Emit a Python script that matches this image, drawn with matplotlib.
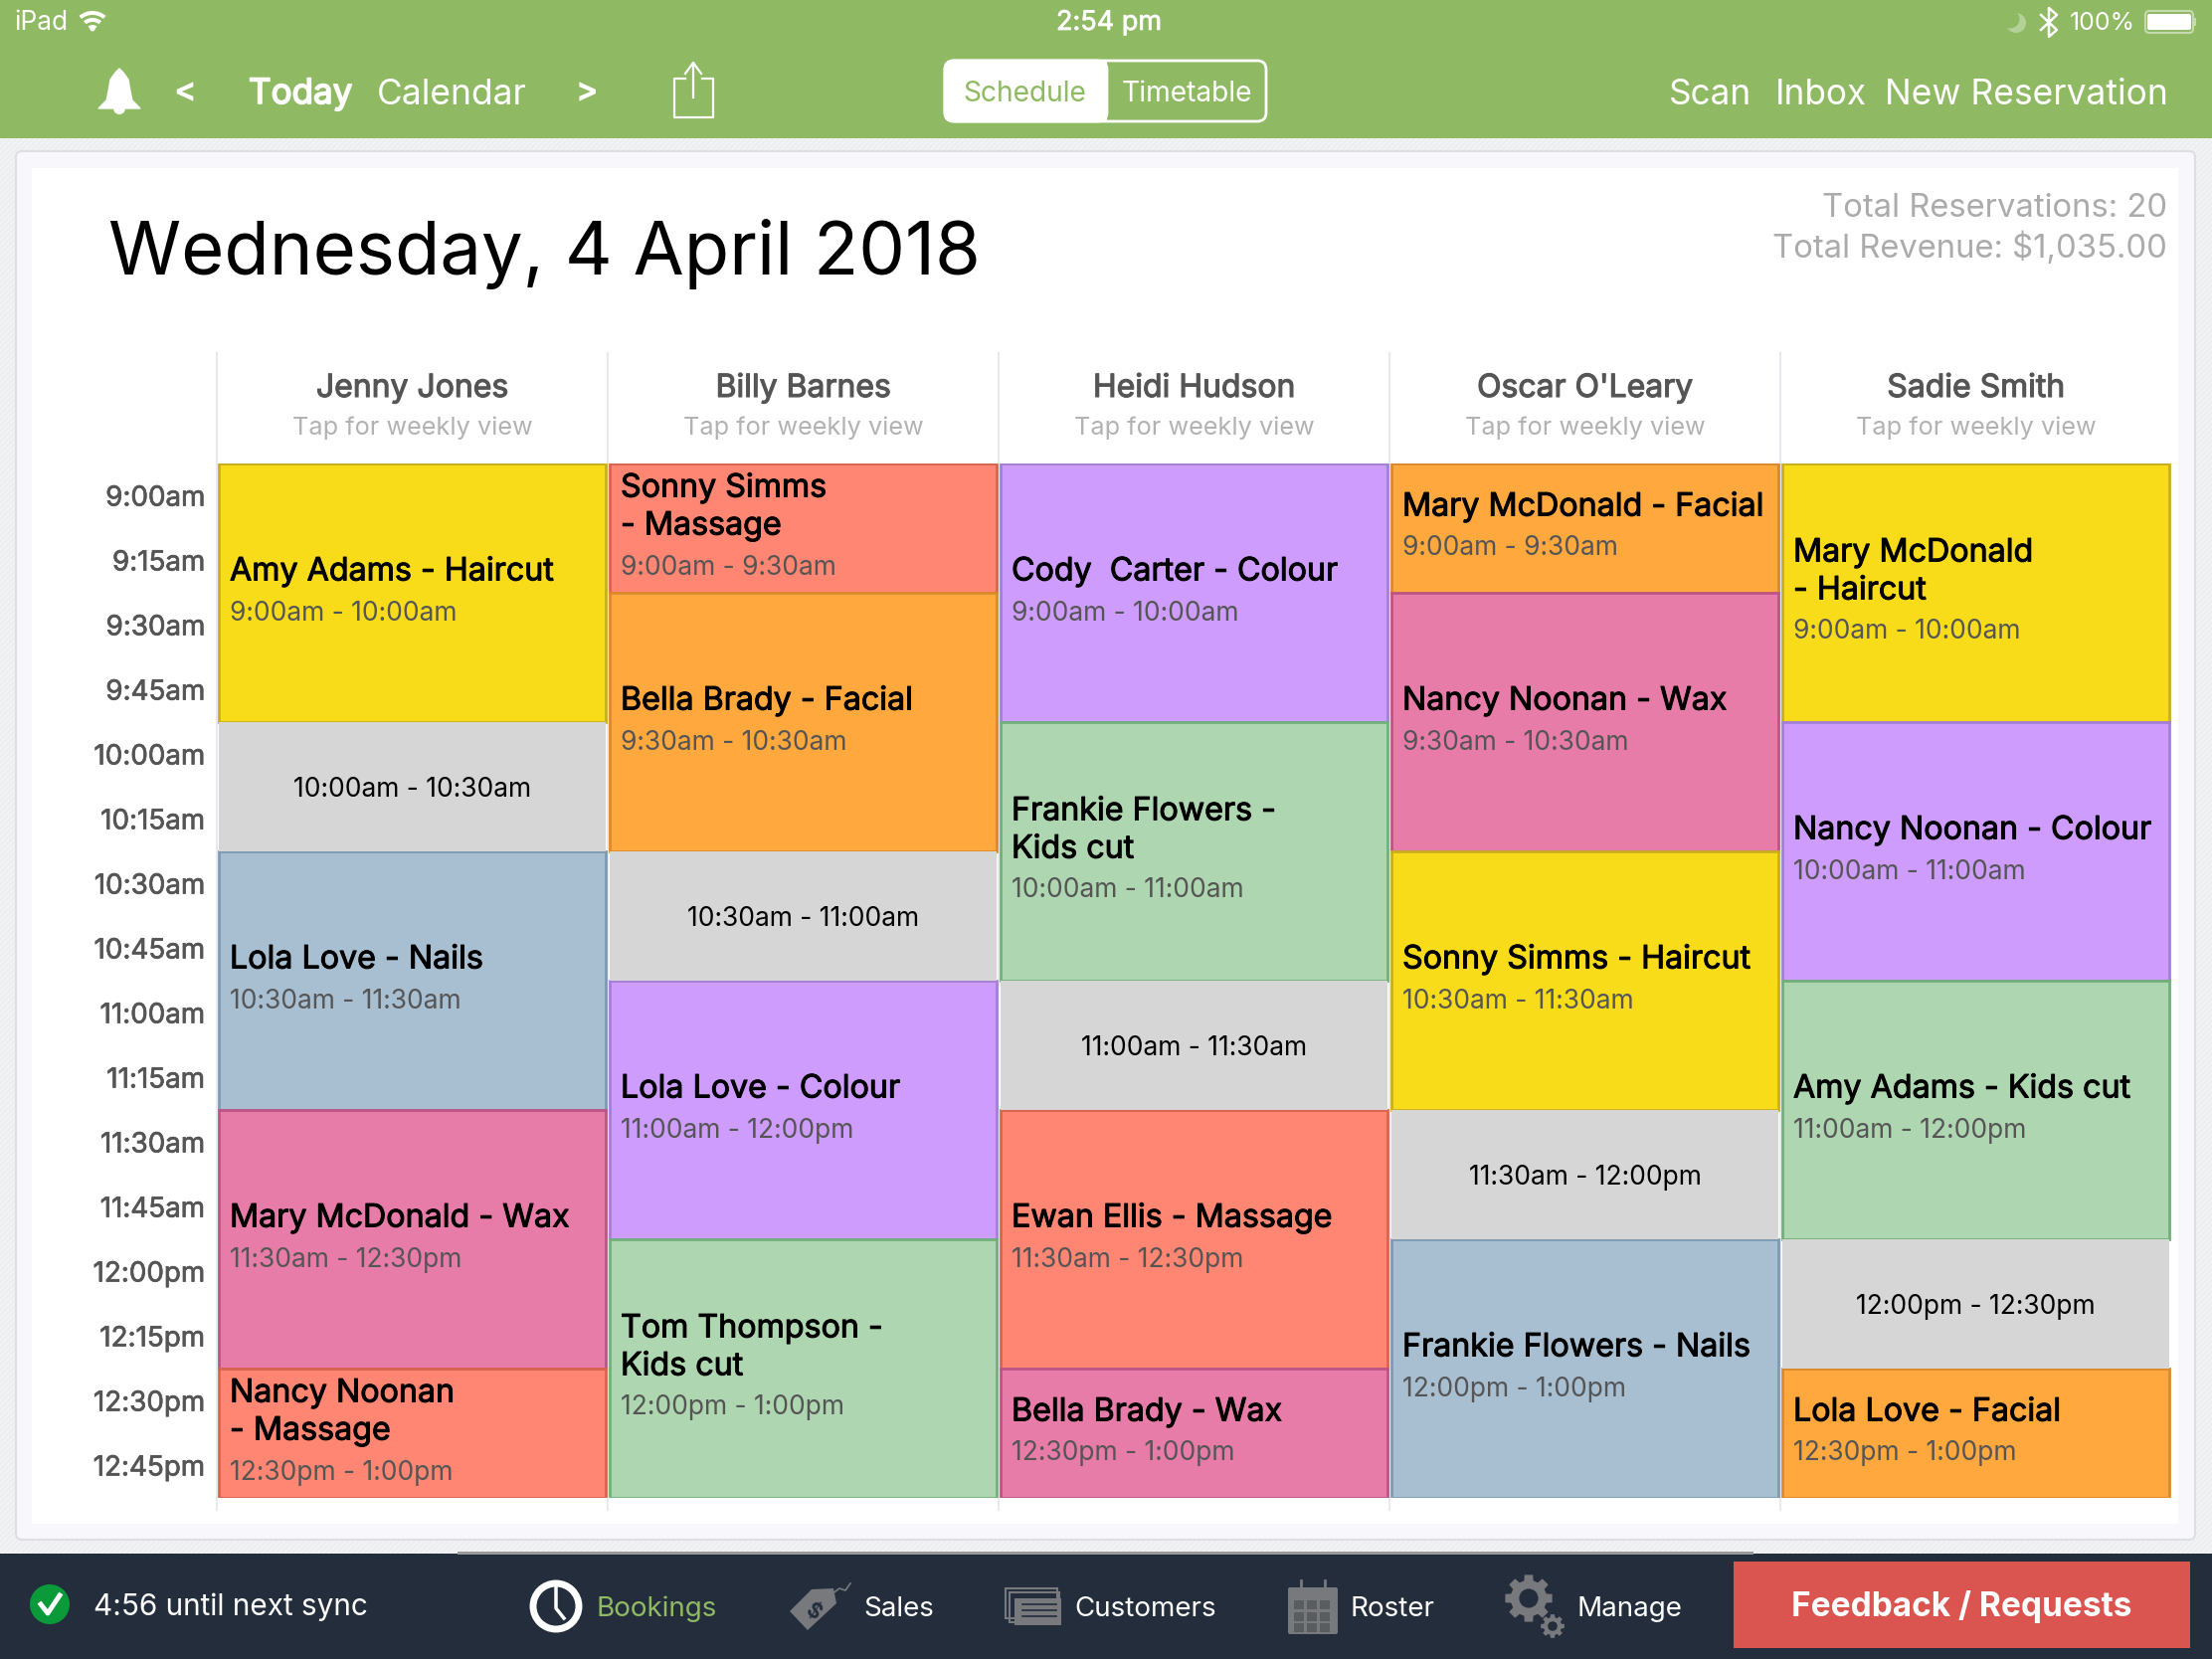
import numpy as np
import matplotlib
matplotlib.use("Agg")
import matplotlib.pyplot as plt
import matplotlib.patheffects as pe
from matplotlib.patches import Rectangle, FancyBboxPatch, Circle, Polygon, Wedge

plt.rcParams['font.family'] = ['Inter', 'DejaVu Sans']
plt.rcParams['hatch.linewidth'] = 0.6

W, H = 2224, 1668

# schedule data, times are in hours
staff = ["Jenny Jones", "Billy Barnes", "Heidi Hudson", "Oscar O'Leary", "Sadie Smith"]

jenny_titles = ["Amy Adams - Haircut", "Lola Love - Nails", "Mary McDonald - Wax", "Nancy Noonan\n- Massage"]
jenny_starts = [9, 10.5, 11.5, 12.5]
jenny_ends = [10, 11.5, 12.5, 13]

billy_titles = ["Sonny Simms\n- Massage", "Bella Brady - Facial", "Lola Love - Colour", "Tom Thompson -\nKids cut"]
billy_starts = [9, 9.5, 11, 12]
billy_ends = [9.5, 10.5, 12, 13]

heidi_titles = ["Cody  Carter - Colour", "Frankie Flowers -\nKids cut", "Ewan Ellis - Massage", "Bella Brady - Wax"]
heidi_starts = [9, 10, 11.5, 12.5]
heidi_ends = [10, 11, 12.5, 13]

oscar_titles = ["Mary McDonald - Facial", "Nancy Noonan - Wax", "Sonny Simms - Haircut", "Frankie Flowers - Nails"]
oscar_starts = [9, 9.5, 10.5, 12]
oscar_ends = [9.5, 10.5, 11.5, 13]

sadie_titles = ["Mary McDonald\n- Haircut", "Nancy Noonan - Colour", "Amy Adams - Kids cut", "Lola Love - Facial"]
sadie_starts = [9, 10, 11, 12.5]
sadie_ends = [10, 11, 12, 13]

all_titles = [jenny_titles, billy_titles, heidi_titles, oscar_titles, sadie_titles]
all_starts = [jenny_starts, billy_starts, heidi_starts, oscar_starts, sadie_starts]
all_ends = [jenny_ends, billy_ends, heidi_ends, oscar_ends, sadie_ends]

# the free slot of each column
free_starts = [10, 10.5, 11, 11.5, 12]
free_ends = [10.5, 11, 11.5, 12, 12.5]

# the time labels down the left side
time_slots = [9, 9.25, 9.5, 9.75, 10, 10.25, 10.5, 10.75, 11, 11.25, 11.5, 11.75, 12, 12.25, 12.5, 12.75]

# fill, edge
service_colours = {
    "Haircut": ("#F8DC1A", "#C9AE1E"),
    "Massage": ("#FF8672", "#D9654F"),
    "Facial": ("#FFA83E", "#D98A2B"),
    "Colour": ("#CD9CFC", "#A47FD6"),
    "Kids cut": ("#AED6B0", "#72B07A"),
    "Wax": ("#E87CA9", "#BC5585"),
    "Nails": ("#A8BED1", "#7E9AB3"),
}

GREEN = "#8FBA63"
NAVY = "#232D3C"
ICON_GREY = "#77797C"


def fmt_time(t):
    hour = int(t)
    minute = int(round((t - hour) * 60))
    suffix = "am" if hour < 12 else "pm"
    shown = hour if hour <= 12 else hour - 12
    return f"{shown}:{minute:02d}{suffix}"


def fmt_range(a, b):
    return f"{fmt_time(a)} - {fmt_time(b)}"


# only regular and bold cut are usable, so a thin stroke stands in for medium
def thick(color, width=0.6):
    return [pe.withStroke(linewidth=width, foreground=color)]


fig = plt.figure(figsize=(W / 100, H / 100), dpi=100, facecolor="#F1F2F4")

# overlay in pixel coordinates for the app chrome
bg = fig.add_axes([0, 0, 1, 1], zorder=0)
bg.set_xlim(0, W)
bg.set_ylim(H, 0)
bg.axis("off")

# schedule axes: x is the staff column, y is the time of day
LEFT, RIGHT, TOP, BOTTOM = 218, 2183, 466, 1506
ax = fig.add_axes([LEFT / W, 1 - BOTTOM / H, (RIGHT - LEFT) / W, (BOTTOM - TOP) / H], zorder=1)
ax.set_xlim(0, 5)
ax.set_ylim(13, 9)
ax.patch.set_alpha(0)
for s in ax.spines.values():
    s.set_visible(False)
ax.set_xticks([])
ax.set_yticks([t + 0.125 for t in time_slots])
ax.set_yticklabels([fmt_time(t) for t in time_slots], fontsize=20, color="#555555",
                   path_effects=thick("#555555", 0.5))
ax.tick_params(axis="y", length=0, pad=8.5)


def put(x, y, s, dx=0, dy=0, **kw):
    ax.annotate(s, xy=(x, y), xytext=(dx, dy), textcoords="offset pixels", annotation_clip=False, **kw)


# faint diagonal texture of the page
bg.add_patch(Rectangle((0, 139), W, 1423, fc="#F1F2F4", ec="#E9EAED", hatch="//////", lw=0))

# card behind the schedule
bg.add_patch(FancyBboxPatch((16, 152), 2191, 1396, boxstyle="round,pad=0,rounding_size=6",
                            fc="#F8F8FC", ec="#DFDFE3", lw=1.5))
bg.add_patch(Rectangle((32, 169), 2158, 1363, fc="white", ec="none"))

# top bar
bg.add_patch(Rectangle((0, 0), W, 139, fc=GREEN, ec="none"))
bg.text(14, 23, "iPad", color="white", fontsize=19, va="center")
# wifi
for r in (21, 14, 7):
    bg.add_patch(Wedge((93, 32), r, 230, 310, width=4, fc="white", ec="none"))
bg.add_patch(Circle((93, 29), 2.5, fc="white", ec="none"))
bg.text(1115, 23, "2:54 pm", color="white", fontsize=19.5, va="center", ha="center",
        path_effects=thick("white", 0.5))
# moon
bg.add_patch(Circle((2027, 23), 10, fc="#B4D197", ec="none"))
bg.add_patch(Circle((2021, 19), 9.5, fc=GREEN, ec="none"))
# bluetooth
bg.plot([2052, 2068, 2060, 2060, 2068, 2052], [15, 30, 37, 8, 15, 30], color="white", lw=1.8)
bg.text(2147, 23, "100%", color="white", fontsize=17.9, va="center", ha="right")
# battery
bg.add_patch(FancyBboxPatch((2157, 11), 48, 22, boxstyle="round,pad=0,rounding_size=4", fc="none", ec="#C5DBAE", lw=1.5))
bg.add_patch(FancyBboxPatch((2159, 14), 44, 16, boxstyle="round,pad=0,rounding_size=2", fc="white", ec="none"))
bg.add_patch(Rectangle((2206, 18), 2, 8, fc="#C5DBAE", ec="none"))

# bell
bell = Polygon([(120, 69), (124, 73), (129, 80), (131, 92), (133, 101), (141, 109), (99, 109),
                (107, 101), (109, 92), (111, 80), (116, 73)], fc="white", ec="white", lw=1)
bg.add_patch(bell)
bg.add_patch(Wedge((120, 109), 6, 0, 180, fc="white", ec="none"))

nav = dict(color="white", va="center")
bg.text(186, 93, "<", fontsize=24, ha="center", fontweight="bold", **nav)
bg.text(250, 95, "Today", fontsize=25.2, path_effects=thick("white", 1.2), **nav)
bg.text(378.5, 95, "Calendar", fontsize=25.5, **nav)
bg.text(590, 93, ">", fontsize=24, ha="center", fontweight="bold", **nav)

# share icon
bg.plot([689, 678, 678, 717, 717, 706], [79, 79, 118, 118, 79, 79], color="white", lw=1.6)
bg.plot([697, 697], [64, 98], color="white", lw=1.6)
bg.plot([689, 697, 705], [74, 63, 74], color="white", lw=1.6)

# schedule / timetable toggle
bg.add_patch(FancyBboxPatch((950, 61), 323, 61, boxstyle="round,pad=0,rounding_size=9", fc="none", ec="white", lw=2))
bg.add_patch(FancyBboxPatch((950, 61), 163, 61, boxstyle="round,pad=0,rounding_size=9", fc="white", ec="white", lw=2))
bg.add_patch(Rectangle((1090, 61), 23, 61, fc="white", ec="none"))
bg.text(1030, 94, "Schedule", color=GREEN, fontsize=20.3, ha="center", va="center")
bg.text(1193, 94, "Timetable", color="white", fontsize=20.3, ha="center", va="center")

bg.text(1678, 95, "Scan", fontsize=25.3, **nav)
bg.text(1785, 95, "Inbox", fontsize=25.3, **nav)
bg.text(2180, 95, "New Reservation", fontsize=25.5, ha="right", **nav)

# heading
bg.text(109, 255, "Wednesday, 4 April 2018", fontsize=53.4, color="black", va="center")
bg.text(2179, 209, "Total Reservations: 20", fontsize=23.6, color="#ABABAB", ha="right", va="center")
bg.text(2179, 249, "Total Revenue: $1,035.00", fontsize=23.6, color="#ABABAB", ha="right", va="center")

# column separators
for i in range(5):
    x = LEFT - 0.5 + i * (RIGHT - LEFT) / 5
    bg.plot([x, x], [355, 1518], color="#E9E9F0", lw=1.5)

# column heads
for i, name in enumerate(staff):
    put(i + 0.5, 9, name, dy=79 - 12, fontsize=23, color="#555555", ha="center", va="baseline",
        path_effects=thick("#555555", 0.8))
    put(i + 0.5, 9, "Tap for weekly view", dy=38 - 9.5, fontsize=18.2, color="#B2B2B2", ha="center", va="baseline")

# bookings
for i in range(5):
    for title, a, b in zip(all_titles[i], all_starts[i], all_ends[i]):
        service = title.replace("\n", " ").split("- ")[-1]
        fill, edge = service_colours[service]
        ax.bar(i + 0.5, b - a, bottom=a, width=0.992, color=fill, edgecolor=edge, linewidth=2, align="center")
        lines = title.split("\n")
        mid = (a + b) / 2
        # text block is centred on the booking, a little above the middle
        y0 = (41 + 38 * (len(lines) - 1)) / 2 + 3
        for k, line in enumerate(lines):
            put(i, mid, line, dx=13, dy=y0 - 38 * k - 11, fontsize=23.2, color="black",
                va="baseline", path_effects=thick("black", 0.7))
        put(i, mid, fmt_range(a, b), dx=13, dy=y0 - 38 * (len(lines) - 1) - 41 - 10,
            fontsize=19, color="#555555", va="baseline")
    a, b = free_starts[i], free_ends[i]
    ax.bar(i + 0.5, b - a, bottom=a, width=0.992, color="#D6D6D6", edgecolor="none")
    put(i + 0.5, (a + b) / 2, fmt_range(a, b), dy=-3, fontsize=19, color="black", ha="center", va="center")

# bottom bar
bg.add_patch(Rectangle((0, 1562), W, 106, fc=NAVY, ec="none"))
bg.add_patch(Rectangle((460, 1560), 1303, 2.5, fc="#9A9A9A", ec="none"))
bg.add_patch(Circle((50, 1613), 20, fc="#0A9A3A", ec="none"))
bg.plot([41, 48, 60], [1613, 1622, 1604], color="white", lw=3.5)
bg.text(94, 1616, "4:56 until next sync", color="white", fontsize=21.4, va="center")

# clock
bg.add_patch(Circle((559, 1615), 23, fc=NAVY, ec="white", lw=5))
bg.plot([559, 559, 567], [1595, 1617, 1627], color="white", lw=2.5)
bg.text(599, 1618, "Bookings", color=GREEN, fontsize=20, va="center")

# price tag
bg.add_patch(Polygon([(816, 1598), (838, 1597), (841, 1612), (812, 1639), (794, 1620)], fc=ICON_GREY, ec="none"))
bg.plot([836, 844, 850, 855], [1603, 1597, 1599, 1592], color=ICON_GREY, lw=1.2)
bg.text(817, 1620, "$", color=NAVY, fontsize=15, rotation=-35, ha="center", va="center", fontweight="bold")
bg.text(868, 1618, "Sales", color="white", fontsize=20, va="center")

# customers icon
bg.add_patch(Rectangle((1011, 1597), 52, 30, fc="none", ec=ICON_GREY, lw=1.5))
bg.add_patch(Rectangle((1015, 1601), 50, 30, fc="none", ec=ICON_GREY, lw=1.5))
bg.add_patch(Rectangle((1020, 1607), 47, 27, fc=ICON_GREY, ec="none"))
for yy in (1613, 1619, 1625):
    bg.plot([1028, 1062], [yy, yy], color=NAVY, lw=1.2)
bg.text(1080, 1618, "Customers", color="white", fontsize=20, va="center")

# roster icon
bg.add_patch(FancyBboxPatch((1295, 1596), 50, 47, boxstyle="round,pad=0,rounding_size=2", fc=ICON_GREY, ec="none"))
for xx in (1308, 1332):
    bg.plot([xx, xx], [1589, 1600], color=ICON_GREY, lw=2)
for cx in (1301, 1314, 1327):
    for cy in (1609, 1621, 1632):
        bg.add_patch(Rectangle((cx, cy), 10, 9, fc="#5A5D60", ec="none"))
bg.text(1358, 1618, "Roster", color="white", fontsize=20, va="center")


# gears
def gear(cx, cy, r, teeth):
    pts = []
    for k in range(teeth):
        c = 2 * np.pi * k / teeth
        w = np.pi / teeth
        for ang, rad in ((c - w * 0.45, r), (c + w * 0.45, r), (c + w * 0.65, r * 0.76), (c + w * 1.35, r * 0.76)):
            pts.append((cx + rad * np.cos(ang), cy + rad * np.sin(ang)))
    bg.add_patch(Polygon(pts, fc=ICON_GREY, ec="none"))
    bg.add_patch(Circle((cx, cy), r * 0.4, fc=NAVY, ec="none"))


gear(1537, 1607, 24, 8)
gear(1561, 1635, 12, 8)
bg.text(1585, 1618, "Manage", color="white", fontsize=20, va="center")

# feedback button
bg.add_patch(Rectangle((1743, 1570), 459, 87, fc="#DB5550", ec="none"))
bg.text(1972, 1615, "Feedback / Requests", color="white", fontsize=24, ha="center", va="center", fontweight="bold")

fig.savefig("out.png", dpi=100)
